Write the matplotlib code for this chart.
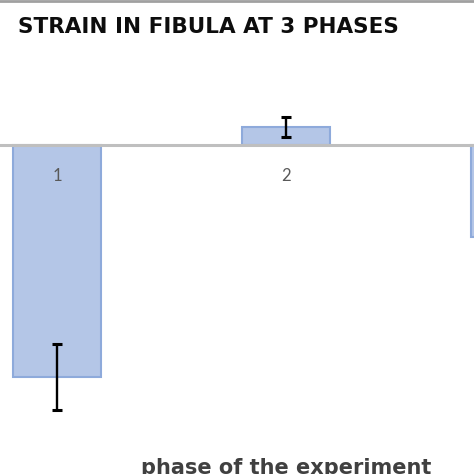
import matplotlib.pyplot as plt
import matplotlib.lines as mlines

# datos (unidades arbitrarias de deformacion)
fases = [1, 2, 3]
deformacion = [-232, 18, -92]
error = [33, 10, 20]
etiquetas = ['1', '2', '3']

plt.rcParams['font.family'] = ['Lato', 'DejaVu Sans']

fig = plt.figure(figsize=(4.74, 4.74), dpi=100, facecolor='white')
ax = fig.add_axes([0, 0, 1, 1])
ax.set_facecolor('white')
ax.set_axisbelow(False)  # etiquetas del eje por encima de las barras

# barras
ax.bar(fases, deformacion, width=0.38, color='#b4c6e7', edgecolor='#8eaadb',
       linewidth=1.5, zorder=2)
ax.errorbar(fases, deformacion, yerr=error, fmt='none', ecolor='black',
            elinewidth=1.7, capsize=3.6, capthick=2.2, zorder=3)

# eje x sobre el cero, estilo Excel
for s in ['top', 'left', 'right']:
    ax.spines[s].set_visible(False)
ax.spines['bottom'].set_position(('data', 0))
ax.spines['bottom'].set_color('#bfbfbf')
ax.spines['bottom'].set_linewidth(2.2)
ax.spines['bottom'].set_zorder(4)
ax.set_xticks(fases)
ax.set_xticklabels(etiquetas)
ax.tick_params(axis='x', length=0, pad=16.5, labelsize=12, labelcolor='#595959')
ax.set_yticks([])

# limites (despues de los ticks) para que el cero quede a 145 px del borde
ax.set_xlim(1 - 57 / 229, 1 + (474 - 57) / 229)
ax.set_ylim(-(474 - 145), 145)

# titulo
fig.text(18 / 474, 1 - 27 / 474, 'STRAIN IN FIBULA AT 3 PHASES',
         ha='left', va='center', fontsize=15.5, fontweight='bold', color='#0d0d0d',
         family='DejaVu Sans')

# etiqueta del eje (cortada en el borde inferior, como en el original)
fig.text(286 / 474, 1 - 474 / 474, 'phase of the experiment',
         ha='center', va='baseline', fontsize=15, fontweight='bold', color='#404040',
         family='DejaVu Sans')

# borde gris superior
fig.add_artist(mlines.Line2D([0, 1], [0.998, 0.998], transform=fig.transFigure,
                             color='#a0a0a0', linewidth=2))

plt.savefig('out.png', dpi=100)
plt.close()
